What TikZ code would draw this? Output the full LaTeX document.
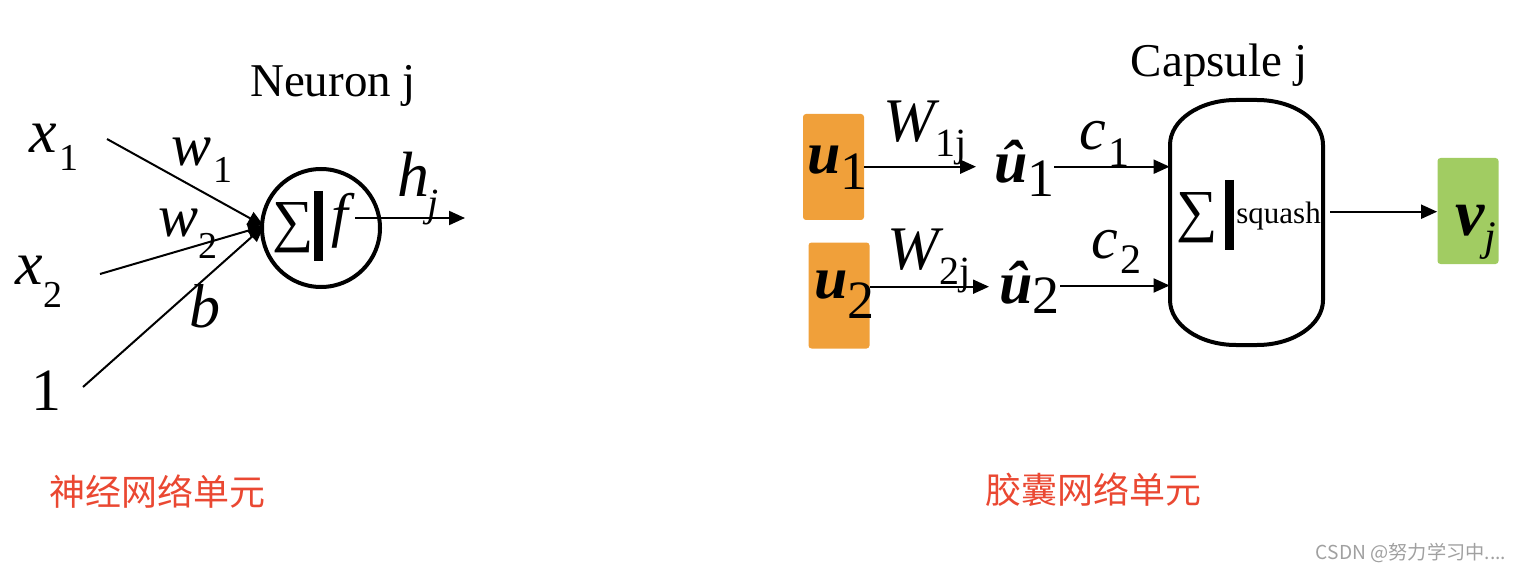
\documentclass[tikz,border=0pt]{standalone}
\usepackage{fontspec}
\setmainfont{Liberation Serif}
\newfontfamily\cjk{Noto Sans CJK SC}
\usetikzlibrary{arrows.meta}
\definecolor{orangebox}{RGB}{240,160,58}
\definecolor{greenbox}{RGB}{161,204,98}
\definecolor{cnred}{RGB}{234,72,50}
\definecolor{wmgray}{RGB}{160,160,160}
\newcommand{\fs}[1]{\fontsize{#1}{#1}\selectfont}
\newcommand{\subl}[3]{\raisebox{#1}{\fs{#2}#3}}
\begin{document}
\begin{tikzpicture}[x=0.5pt,y=-0.5pt,
  txt/.style={inner sep=0pt, anchor=base west},
  ctxt/.style={inner sep=0pt, anchor=base},
  arr/.style={line width=1pt, -{Triangle[length=8pt,width=7pt]}},
  boxfill/.style={inner sep=0pt, rounded corners=1.5pt, minimum width=30.5pt, minimum height=53pt},
  bar/.style={line width=4.5pt},
  cn/.style={inner sep=0pt, text=cnred, font=\cjk\fs{18}}]
\useasboundingbox (0,0) rectangle (1524,572);

% ---------------- Left: neuron ----------------
\node[ctxt] (neurontitle) at (333,97) {\fs{23.5}Neuron j};
\node[draw, circle, line width=2pt, minimum size=59pt, inner sep=0pt] (neuron) at (321,228) {};
\node[inner sep=0pt] (sumL) at (293,228) {\fs{29}∑};
\draw[bar] (318,191) -- (318,261);
\node[txt] (fL) at (331,235) {\fs{30}\itshape f};

\node[txt] (x1) at (29,153) {\fs{31}\itshape x\upshape\kern1.5pt\subl{-9pt}{19}{1}};
\node[txt] (x2) at (15,284) {\fs{31}\itshape x\upshape\kern0.5pt\subl{-12pt}{19}{2}};
\node[ctxt] (one) at (47,410) {\fs{30}1};
\node[txt] (w1) at (171,166) {\fs{30}\itshape w\upshape\kern1pt\subl{-8.5pt}{19}{1}};
\node[txt] (w2) at (158,236) {\fs{30}\itshape w\upshape\subl{-11pt}{19}{2}};
\node[txt] (bL) at (189,327) {\fs{31}\itshape b};
\node[txt] (hj) at (397,197) {\fs{32}\itshape h\kern-1pt\subl{-10pt}{20}{j}};

\coordinate (s1) at (107,139);
\coordinate (s2) at (100,274);
\coordinate (s3) at (83,387);
\coordinate (tipL) at (264,226);
\draw[arr] (s1) -- (tipL);
\draw[arr] (s2) -- (tipL);
\draw[arr] (s3) -- (tipL);
\coordinate (hs) at (355,218);
\coordinate (he) at (465,218);
\draw[arr] (hs) -- (he);

% ---------------- Right: capsule ----------------
\node[ctxt] (capsuletitle) at (1219,77) {\fs{23.5}Capsule j};

\node[boxfill, fill=orangebox] (u1box) at (833.5,167) {};
\node[boxfill, fill=orangebox] (u2box) at (839,295.5) {};
\node[boxfill, fill=greenbox] (vbox) at (1468,211) {};

\node[txt] (u1) at (807,174) {\fs{30}\bfseries\itshape u\mdseries\upshape\subl{-8pt}{27}{1}};
\node[txt] (u2) at (814,298) {\fs{30}\bfseries\itshape u\mdseries\upshape\subl{-10pt}{27}{2}};
\node[txt] (W1) at (883,142) {\fs{31}\itshape W\upshape\subl{-7.5pt}{20}{1j}};
\node[txt] (W2) at (887,270) {\fs{31}\itshape W\upshape\subl{-7.5pt}{20}{2j}};
\node[txt] (uh1) at (994,183) {\fs{30}\bfseries\itshape û\mdseries\upshape\subl{-7pt}{27}{1}};
\node[txt] (uh2) at (999,303) {\fs{30}\bfseries\itshape û\mdseries\upshape\subl{-5pt}{27}{2}};
\node[txt] (c1) at (1079,150) {\fs{30}\itshape c\upshape\kern1pt\subl{-8.5pt}{21}{1}};
\node[txt] (c2) at (1091,258) {\fs{30}\itshape c\upshape\kern1pt\subl{-7.5pt}{21}{2}};
\node[txt] (vj) at (1455,235) {\fs{33}\bfseries\itshape v\mdseries\subl{-7.5pt}{21}{j}};

% capsule outline
\node[inner sep=0pt, minimum width=76.5pt, minimum height=122.5pt] (caps) at (1246.5,222.5) {};
\draw[line width=2pt] (1170,300) -- (1170,145)
  arc[start angle=180, end angle=90, x radius=33pt, y radius=22.5pt] -- (1257,100)
  arc[start angle=90, end angle=0, x radius=33pt, y radius=22.5pt] -- (1323,300)
  arc[start angle=0, end angle=-90, x radius=33pt, y radius=22.5pt] -- (1236,345)
  arc[start angle=270, end angle=180, x radius=33pt, y radius=22.5pt] -- cycle;
\node[inner sep=0pt] (sumR) at (1197,218) {\fs{29}∑};
\draw[bar] (1229.5,180) -- (1229.5,250);
\node[txt] (squash) at (1236,223) {\fs{15.5}squash};

\coordinate (a1e) at (976,166.7);
\coordinate (a2e) at (989,286.7);
\draw[arr] (u1box.east |- a1e) -- (a1e);
\draw[arr] (u2box.east |- a2e) -- (a2e);
\coordinate (b1s) at (1054,166.7);
\coordinate (b2s) at (1060,285.5);
\draw[arr] (b1s) -- (b1s -| caps.west);
\draw[arr] (b2s) -- (b2s -| caps.west);
\coordinate (os) at (1330,211.7);
\draw[arr] (os) -- (os -| vbox.west);

% ---------------- Chinese captions ----------------
\node[cn] (capL) at (157.5,491.5) {神经网络单元};
\node[cn] (capR) at (1093,490) {胶囊网络单元};
\node[inner sep=0pt, text=wmgray, font=\cjk\fs{9.6}] (wm) at (1411,553) {CSDN @努力学习中....};
\end{tikzpicture}
\end{document}
